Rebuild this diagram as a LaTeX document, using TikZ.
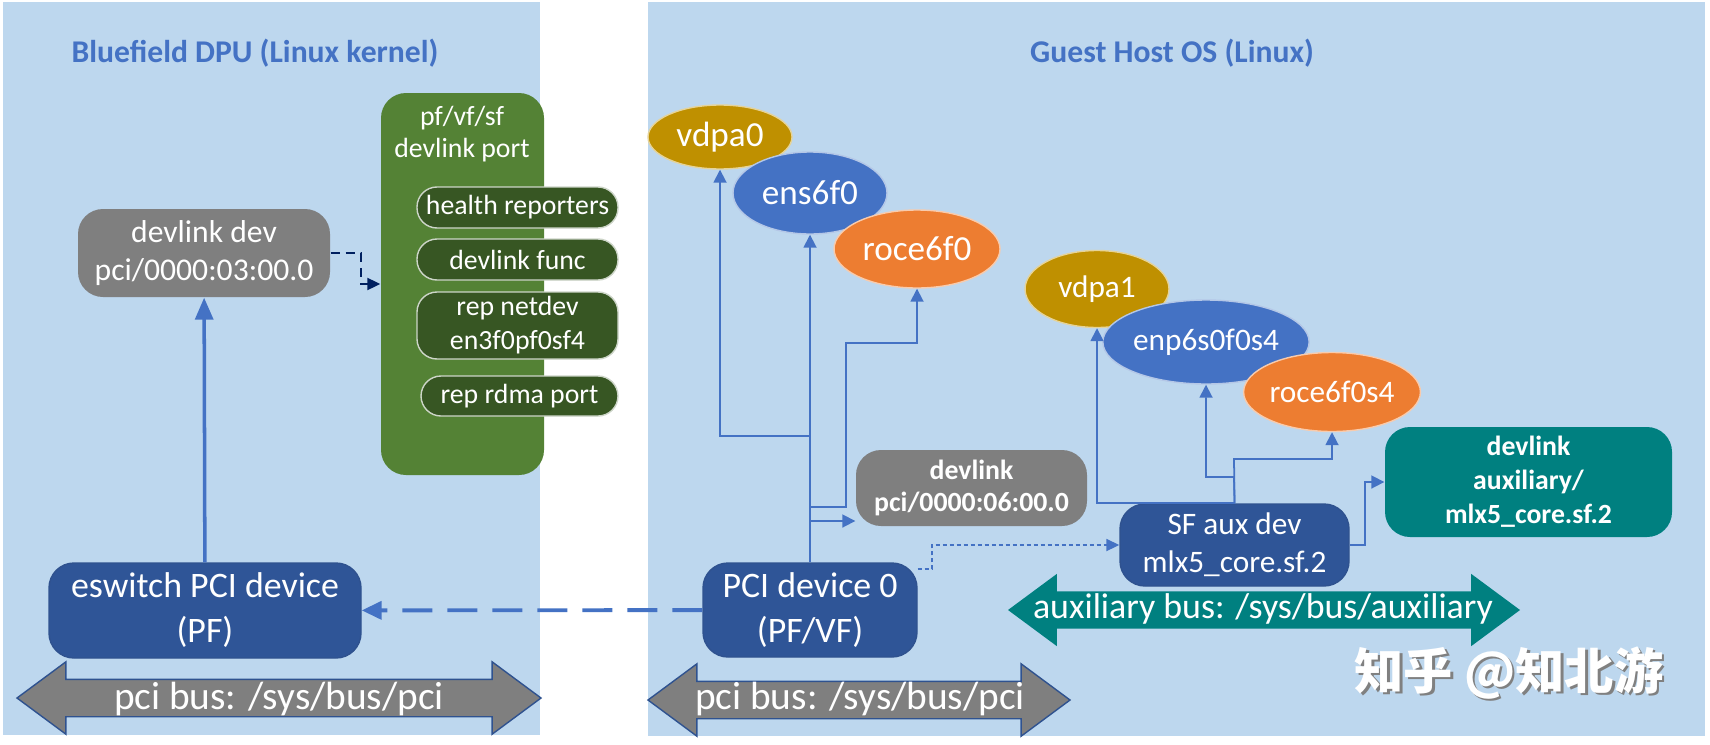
\documentclass[tikz,border=0pt]{standalone}
\usepackage{fontspec}
\setmainfont{Carlito}
\newfontfamily\cjk{Noto Sans CJK SC}
\usepackage{tikz}
\usetikzlibrary{shapes.geometric,shapes.arrows,arrows.meta,positioning}
\definecolor{panelbg}{HTML}{BDD7EE}
\definecolor{titleblue}{HTML}{4472C4}
\definecolor{linkblue}{HTML}{4472C4}
\definecolor{boxblue}{HTML}{2F5597}
\definecolor{boxedge}{HTML}{2F528F}
\definecolor{boxgray}{HTML}{7F7F7F}
\definecolor{portgreen}{HTML}{548235}
\definecolor{pillgreen}{HTML}{375623}
\definecolor{vdpagold}{HTML}{BF9000}
\definecolor{netorange}{HTML}{ED7D31}
\definecolor{auxteal}{HTML}{008080}
\definecolor{navy}{HTML}{002060}
\tikzset{
  ttl/.style={text=titleblue, font=\fontsize{9}{11}\selectfont\bfseries},
  dev/.style={rectangle, rounded corners=2.5mm, fill=boxblue, draw=boxedge,
              text=white, align=center, inner sep=0pt,
              font=\fontsize{10.2}{12.8}\selectfont},
  grey/.style={rectangle, rounded corners=2.5mm, fill=boxgray, text=white,
               align=center, inner sep=0pt},
  pill/.style={rectangle, rounded corners=2mm, fill=pillgreen, draw=white!75!pillgreen,
               text=white, align=center, inner sep=0pt, minimum width=2.01cm,
               font=\fontsize{7.9}{9.7}\selectfont},
  net/.style={ellipse, text=white, inner sep=0pt, draw=white!60!#1, fill=#1},
  bus/.style={double arrow, double arrow tip angle=73,
              double arrow head extend=0.175cm, inner sep=0pt,
              text height=0.36cm, text depth=0pt, fill=#1, draw=boxedge},
  bustxt/.style={text=white, font=\fontsize{11.2}{13}\selectfont},
  conn/.style={-{Triangle[length=1.3mm, width=1.3mm]}, linkblue, line width=0.5pt},
  fat/.style={-{Triangle[length=2.2mm, width=1.8mm]}, linkblue, line width=1pt},
  longdash/.style={-{Triangle[length=2mm, width=1.8mm]}, linkblue, line width=1.1pt,
                   dash pattern=on 3mm off 1.5mm},
  navydash/.style={-{Triangle[length=1.3mm, width=1.2mm]}, navy, line width=0.6pt,
                   dash pattern=on 0.9mm off 0.6mm},
  dots/.style={-{Triangle[length=1.3mm, width=1.2mm]}, linkblue, line width=0.5pt,
               dash pattern=on 0.4mm off 0.3mm}
}
\begin{document}
\begin{tikzpicture}
\useasboundingbox (0,0) rectangle (17.1,7.44);
\fill[white] (0,0) rectangle (17.1,7.44);
% the two hosts
\fill[panelbg] (0.03,0.09) rectangle (5.40,7.42);
\fill[panelbg] (6.48,0.08) rectangle (17.05,7.42);
\node[ttl] (dputitle) at (2.55,6.91) {Bluefield DPU (Linux kernel)};
\node[ttl] (hosttitle) at (11.72,6.91) {Guest Host OS (Linux)};

% DPU side
\node[rectangle, rounded corners=2.5mm, fill=portgreen, inner sep=0pt,
      minimum width=1.63cm, minimum height=3.82cm] (port) at (4.625,4.60) {};
\node[text=white, align=center, font=\fontsize{7.9}{9.1}\selectfont]
      (porttxt) at (4.62,6.10) {pf/vf/sf\\devlink port};
\node[pill, minimum height=0.41cm] (health) at (5.175,5.365) {health reporters};
\node[pill, minimum height=0.41cm] (func) at (5.175,4.845) {devlink func};
\node[pill, minimum height=0.67cm] (repnet) at (5.175,4.185) {rep netdev\\en3f0pf0sf4};
\node[pill, minimum width=1.97cm, minimum height=0.40cm] (rdma) at (5.195,3.48) {rep rdma port};

\node[grey, minimum width=2.52cm, minimum height=0.88cm,
      font=\fontsize{9}{10.8}\selectfont] (devdev) at (2.04,4.91) {devlink dev\\pci/0000:03:00.0};
\node[dev, minimum width=3.12cm, minimum height=0.95cm] (eswitch) at (2.05,1.335) {eswitch PCI device\\(PF)};
\node[bus=boxgray, minimum height=5.24cm] (dpubus) at (2.79,0.46) {};
\node[bustxt] (dpubustxt) at (2.79,0.45) {pci bus: /sys/bus/pci};

\draw[fat] (eswitch) -- (devdev);
\draw[navydash] (devdev.east) -- ++(0.30,0) |- (port.west);

% host side
\node[dev, minimum width=2.14cm, minimum height=0.94cm] (pcidev) at (8.10,1.34) {PCI device 0\\(PF/VF)};
\node[bus=boxgray, minimum height=4.22cm] (hostbus) at (8.59,0.44) {};
\node[bustxt] (hostbustxt) at (8.60,0.45) {pci bus: /sys/bus/pci};
\node[grey, minimum width=2.31cm, minimum height=0.76cm,
      font=\fontsize{7.9}{9}\selectfont\bfseries] (devpci) at (9.715,2.56) {devlink\\pci/0000:06:00.0};

\node[net=vdpagold, minimum width=1.44cm, minimum height=0.64cm,
      font=\fontsize{10}{12}\selectfont] (vdpa0) at (7.20,6.07) {vdpa0};
\node[net=linkblue, minimum width=1.54cm, minimum height=0.82cm,
      font=\fontsize{10}{12}\selectfont] (ens) at (8.10,5.51) {ens6f0};
\node[net=netorange, minimum width=1.66cm, minimum height=0.78cm,
      font=\fontsize{10}{12}\selectfont] (roce) at (9.17,4.95) {roce6f0};

\node[net=vdpagold, minimum width=1.44cm, minimum height=0.77cm,
      font=\fontsize{8.9}{11}\selectfont] (vdpa1) at (10.97,4.55) {vdpa1};
\node[net=linkblue, minimum width=1.90cm, minimum height=0.84cm,
      font=\fontsize{8.9}{11}\selectfont] (enp) at (12.06,4.02) {enp6s0f0s4};
\node[net=netorange, minimum width=1.68cm, minimum height=0.79cm,
      font=\fontsize{8.9}{11}\selectfont] (roces4) at (13.32,3.52) {roce6f0s4};

\node[dev, minimum width=2.29cm, minimum height=0.82cm,
      font=\fontsize{8.9}{10.8}\selectfont] (sfaux) at (12.345,1.99) {SF aux dev\\mlx5\_core.sf.2};
\node[grey, fill=auxteal, minimum width=2.87cm, minimum height=1.10cm,
      font=\fontsize{7.9}{9.7}\selectfont\bfseries] (devaux) at (15.285,2.62) {devlink\\auxiliary/\\mlx5\_core.sf.2};
\node[bus=auxteal, draw=none, minimum height=5.12cm] (auxbus) at (12.64,1.34) {};
\node[bustxt, font=\fontsize{10.2}{12}\selectfont] (auxbustxt) at (12.63,1.35) {auxiliary bus: /sys/bus/auxiliary};

\coordinate (b1) at (8.10,3.08);
\coordinate (b2) at (8.10,2.37);
\coordinate (b3) at (8.10,2.23);
\draw[conn] (pcidev) -- (ens);
\draw[conn] (b1) -| (vdpa0);
\draw[conn] (b2) -| (8.46,4.01) -| (roce);
\draw[conn] (b3) -- (b3 -| devpci.west);
\draw[dots] (pcidev.east |- 0,1.75) -| (9.32,1.99) -- (sfaux.west);
\draw[longdash] (pcidev) -- (eswitch);

\draw[conn] (sfaux.north) -| (vdpa1);
\draw[conn] (sfaux.north) -- (12.34,2.67) -| (enp);
\draw[conn] (sfaux.north) -- (12.34,2.85) -| (roces4);
\draw[conn] (sfaux.east) -- ++(0.15,0) |- (devaux.west);

% watermark
\node[text=gray, font=\cjk\bfseries\fontsize{14}{16}\selectfont] (zhshadow) at (15.115,0.685) {知乎 @知北游};
\node[text=white, font=\cjk\bfseries\fontsize{14}{16}\selectfont] (zh) at (15.09,0.71) {知乎 @知北游};
\end{tikzpicture}
\end{document}
